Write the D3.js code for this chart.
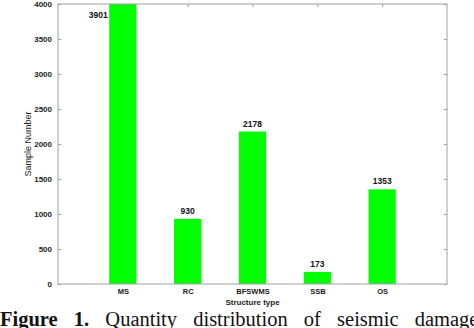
<!DOCTYPE html>
<html><head><meta charset="utf-8">
<script src="https://cdn.jsdelivr.net/npm/d3@7"></script>
<style>body{margin:0;background:#fff}svg{display:block}</style>
</head><body>
<script>
const categories = ["MS","RC","BFSWMS","SSB","OS"];
const values = [4000, 930, 2178, 173, 1353];       // MS bar is clipped at the top of the axes
const valueLabels = ["3901","930","2178","173","1353"];
const yTicks = [0,500,1000,1500,2000,2500,3000,3500,4000];

const W = 474, H = 328;
const m = {left:58, right:27, top:4, bottom:44};
const svg = d3.select("body").append("svg").attr("width",W).attr("height",H);

const x = d3.scaleLinear().domain([0, categories.length+1]).range([m.left, W-m.right]);
const y = d3.scaleLinear().domain([0,4000]).range([H-m.bottom, m.top]);
const barW = (x(1)-x(0))*0.42;
const axisCol = "#a0a0a0";

svg.append("defs").append("clipPath").attr("id","clip").append("rect")
  .attr("x",m.left).attr("y",m.top).attr("width",W-m.left-m.right).attr("height",H-m.top-m.bottom);

// bars
svg.append("g").attr("clip-path","url(#clip)").selectAll("rect").data(values).join("rect")
  .attr("x",(d,i)=>x(i+1)-barW/2).attr("width",barW)
  .attr("y",d=>y(d)).attr("height",d=>y(0)-y(d)).attr("fill","#00ff00");

// box
svg.append("rect").attr("x",m.left).attr("y",m.top).attr("width",W-m.left-m.right).attr("height",H-m.top-m.bottom)
  .attr("fill","none").attr("stroke",axisCol).attr("stroke-width",1);

// left axis
const yAxis = d3.axisLeft(y).tickValues(yTicks).tickFormat(d3.format("d")).tickSizeInner(-3).tickSizeOuter(0).tickPadding(6);
const ya = svg.append("g").attr("transform",`translate(${m.left},0)`).call(yAxis);
ya.select(".domain").remove();
ya.selectAll("line").attr("stroke",axisCol);
ya.selectAll("text").attr("font-family","Liberation Sans, Arial, sans-serif").attr("font-size",8).attr("font-weight","bold").attr("fill","#222");
// right axis ticks
const yr = svg.append("g").attr("transform",`translate(${W-m.right},0)`).call(d3.axisRight(y).tickValues(yTicks).tickSizeInner(-3).tickSizeOuter(0).tickFormat(""));
yr.select(".domain").remove(); yr.selectAll("line").attr("stroke",axisCol);

// bottom axis
const xAxis = d3.axisBottom(x).tickValues(categories.map((c,i)=>i+1)).tickFormat((d)=>categories[d-1]).tickSizeInner(-3).tickSizeOuter(0).tickPadding(5);
const xa = svg.append("g").attr("transform",`translate(0,${H-m.bottom})`).call(xAxis);
xa.select(".domain").remove();
xa.selectAll("line").attr("stroke",axisCol);
xa.selectAll("text").attr("font-family","Liberation Sans, Arial, sans-serif").attr("font-size",7.5).attr("font-weight","bold").attr("fill","#222");
const xt = svg.append("g").attr("transform",`translate(0,${m.top})`).call(d3.axisTop(x).tickValues(categories.map((c,i)=>i+1)).tickSizeInner(-3).tickSizeOuter(0).tickFormat(""));
xt.select(".domain").remove(); xt.selectAll("line").attr("stroke",axisCol);

// value labels
svg.append("g").selectAll("text").data(values).join("text")
  .attr("x",(d,i)=> d>4000*0.95 ? x(i+1)-barW/2-11 : x(i+1))
  .attr("y",(d,i)=> d>4000*0.95 ? y(4000)+14 : y(d)-5)
  .attr("text-anchor","middle")
  .attr("font-family","Liberation Sans, Arial, sans-serif").attr("font-size",8.5).attr("font-weight","bold").attr("fill","#111")
  .text((d,i)=>valueLabels[i]);

// axis titles
svg.append("text").attr("x",(m.left+W-m.right)/2).attr("y",305).attr("text-anchor","middle")
  .attr("font-family","Liberation Sans, Arial, sans-serif").attr("font-size",8).attr("font-weight","bold").attr("fill","#222")
  .text("Structure type");
svg.append("text").attr("transform",`translate(31,${(m.top+H-m.bottom)/2}) rotate(-90)`).attr("text-anchor","middle")
  .attr("font-family","Liberation Sans, Arial, sans-serif").attr("font-size",9).attr("fill","#222")
  .text("Sample Number");

// caption
const cap = svg.append("text").attr("x",0).attr("y",326)
  .attr("font-family","Liberation Serif, Times New Roman, serif").attr("font-size",20.5).attr("fill","#111")
  .attr("word-spacing","11px").attr("xml:space","preserve");
cap.append("tspan").attr("font-weight","bold").text("Figure 1. ");
cap.append("tspan").text("Quantity distribution of seismic damage");
</script>
</body></html>
